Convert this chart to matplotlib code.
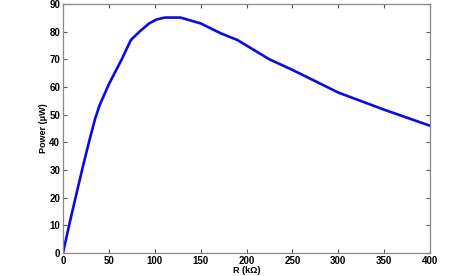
import matplotlib
matplotlib.use('Agg')
import matplotlib.pyplot as plt

# load resistance (kOhm) and harvested power (uW)
r_kohm = [0, 7, 14, 21.5, 29, 35, 40, 50, 64, 74, 84, 94, 102, 111, 128, 150, 172, 190, 225, 250, 300, 350, 400]
power_uw = [0, 10.5, 20.5, 31, 41, 48.5, 53.5, 61, 70, 77, 80.2, 83, 84.4, 85.1, 85.1, 83, 79.4, 77, 70, 66.2, 58, 51.8, 46]

xticks = [0, 50, 100, 150, 200, 250, 300, 350, 400]
yticks = [0, 10, 20, 30, 40, 50, 60, 70, 80, 90]

plt.rcParams['font.family'] = ['Liberation Sans', 'DejaVu Sans']

fig = plt.figure(figsize=(4.74, 2.76), dpi=100)
ax = fig.add_axes([0.1329, 0.0833, 0.9072 - 0.1329, 0.9855 - 0.0833])

ax.plot(r_kohm, power_uw, color='#0a0ae6', linewidth=1.9)

ax.set_xlim(0, 400)
ax.set_ylim(0, 90)
ax.set_xticks(xticks)
ax.set_yticks(yticks)
ax.tick_params(direction='in', top=True, right=True, length=3, width=0.8,
               color='#555555', labelsize=7, pad=2)
for lbl in ax.get_xticklabels() + ax.get_yticklabels():
    lbl.set_fontweight('bold')
for sp in ax.spines.values():
    sp.set_color('#888888')
    sp.set_linewidth(0.9)

ax.set_xlabel('R (k\u03a9)', fontsize=6.5, fontweight='bold', labelpad=0)
ax.set_ylabel('Power (\u03bcW)', fontsize=6.5, fontweight='bold', labelpad=1)

fig.savefig('out.png', dpi=100)
